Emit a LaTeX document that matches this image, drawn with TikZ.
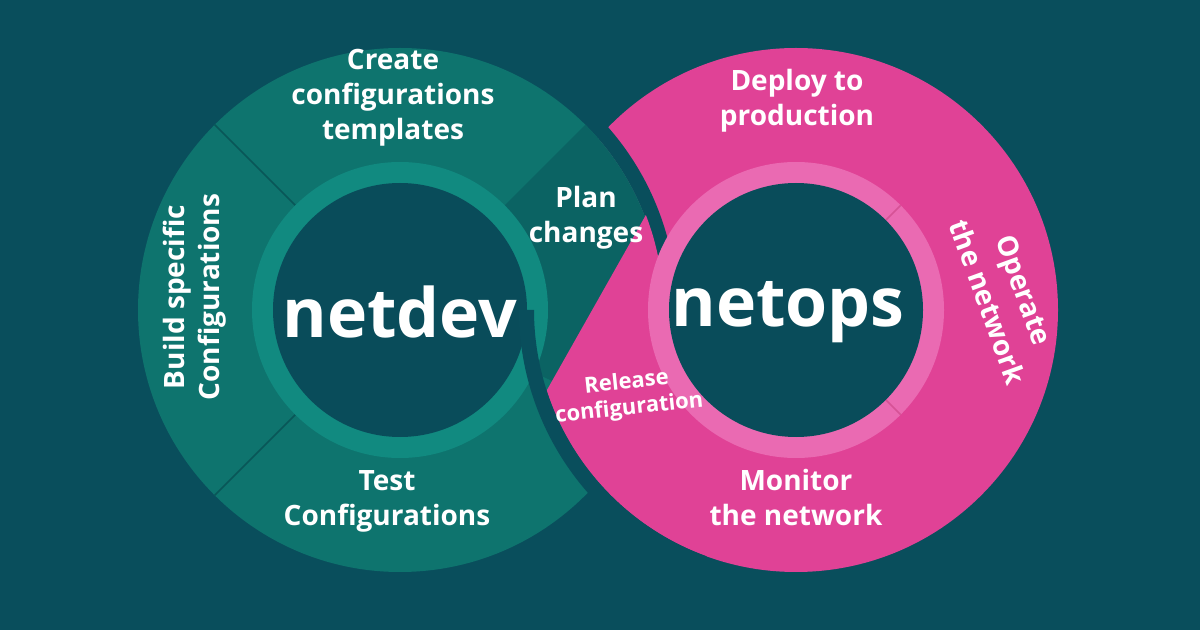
\documentclass[tikz,border=0pt]{standalone}
\usepackage{fontspec}
\setmainfont{Open Sans}
\definecolor{bg}{RGB}{9,78,92}
\definecolor{tealM}{RGB}{14,116,110}
\definecolor{tealD}{RGB}{11,99,99}
\definecolor{tealL}{RGB}{17,138,128}
\definecolor{tealLine}{RGB}{9,86,88}
\definecolor{pinkM}{RGB}{224,66,150}
\definecolor{pinkL}{RGB}{234,106,178}
\definecolor{pinkLine}{RGB}{214,82,150}
\definecolor{hole}{RGB}{9,76,90}
\begin{document}
\begin{tikzpicture}[x=1pt,y=1pt,
  lbl/.style={text=white, font=\bfseries\fontsize{28}{35}\selectfont, align=center, inner sep=0pt},
  big/.style={text=white, font=\bfseries\fontsize{68}{72}\selectfont, inner sep=0pt},
  small/.style={text=white, font=\bfseries\fontsize{22}{26}\selectfont, align=center, inner sep=0pt},
  gap/.style={bg, line width=15pt},
  divider/.style={line width=1.5pt}]
\fill[bg] (0,0) rectangle (1200,630);
\useasboundingbox (0,0) rectangle (1200,630);
\coordinate (L) at (400,320);
\coordinate (R) at (796,320);
% pink outer disc
\fill[pinkM] (R) circle[radius=262];
% gap around left ring (upper part)
\draw[gap] (L) ++(60:269.5) arc[start angle=60,end angle=-5,radius=269.5];
% left ring segments
\fill[tealM] (L) circle[radius=262];
\fill[tealD] (L) -- ++(-25:262) arc[start angle=-25,end angle=45,radius=262] -- cycle;
\draw[tealLine,divider] (L) ++(135:148) -- ++(135:114);
\draw[tealLine,divider] (L) ++(225:148) -- ++(225:114);
\fill[tealL] (L) circle[radius=148];
\fill[hole] (L) circle[radius=127];
% release region (pink over the crossing)
\begin{scope}
  \clip (387,-43) -- (803,693) -- (1300,693) -- (1300,-43) -- cycle;
  \clip (L) circle[radius=263.5];
  \fill[pinkM] (R) circle[radius=262];
\end{scope}
% gap around right ring (lower part)
\draw[gap] (R) ++(180:269.5) arc[start angle=180,end angle=250,radius=269.5];
% right inner ring
\fill[pinkL] (R) circle[radius=148];
\draw[pinkLine,divider] (R) ++(45:127) -- ++(45:21);
\draw[pinkLine,divider] (R) ++(-45:127) -- ++(-45:21);
\fill[hole] (R) circle[radius=127];
% labels
\node[big] (netdev) at (400,318) {netdev};
\node[big] (netops) at (788,318) {netops};
\node[lbl] (create) at (393,532) {Create\\configurations\\templates};
\node[lbl, rotate=90] (build) at (195,333) {Build specific\\Configurations};
\node[lbl] (test) at (387,129) {Test\\Configurations};
\node[lbl] (plan) at (586,412) {Plan\\changes};
\node[small, rotate=6] (release) at (628,234) {Release\\configuration};
\node[lbl] (deploy) at (797,529) {Deploy to\\production};
\node[lbl, rotate=-70] (operate) at (1021,339) {Operate};
\node[lbl, rotate=-70] (opnet) at (988,328) {the network};
\node[lbl] (monitor) at (796,133) {Monitor\\the network};
\end{tikzpicture}
\end{document}
